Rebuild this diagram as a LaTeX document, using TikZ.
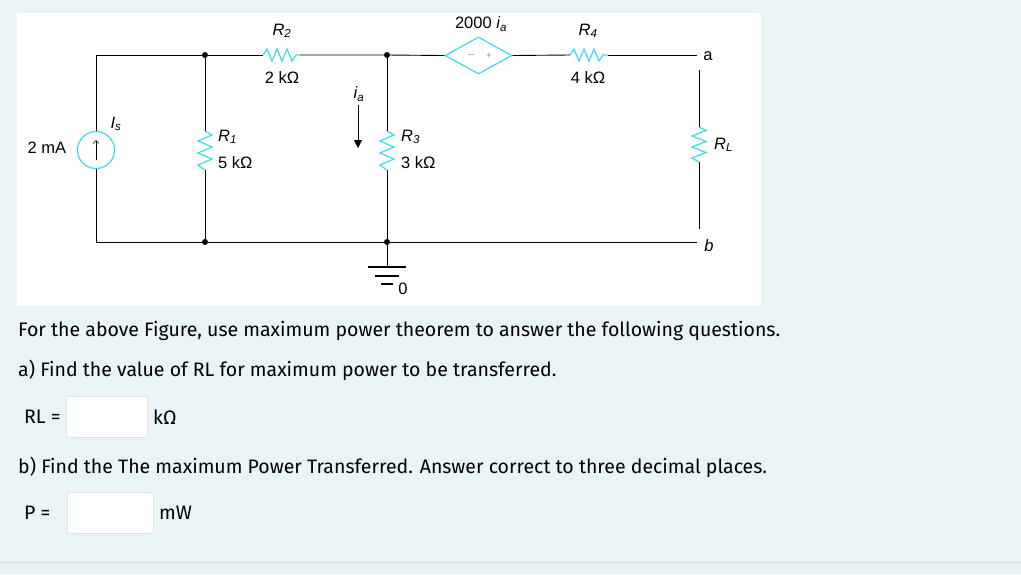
\documentclass[tikz,border=0pt]{standalone}
\usepackage{fontspec}
\setmainfont{Fira Sans}
\newfontfamily\cf{Liberation Sans}
\usetikzlibrary{shapes.geometric,arrows.meta}
\definecolor{bgc}{HTML}{E8F4F6}
\definecolor{cy}{HTML}{3CDCEC}
\tikzset{
 wire/.style={line width=0.9pt},
 comp/.style={cy,line width=1.2pt},
 dot/.style={circle,fill=black,inner sep=0pt,minimum size=6pt},
 lab/.style={font=\cf\fontsize{16.5}{18}\selectfont,inner sep=1pt},
 qtxt/.style={font=\fontsize{19.5}{22}\selectfont,anchor=west,inner sep=0pt},
 ansbox/.style={draw=black!15,fill=white,line width=0.6pt,rounded corners=2pt,anchor=north west}
}
\begin{document}
\begin{tikzpicture}[x=1pt,y=-1pt]
\fill[bgc] (0,0) rectangle (1021,574);
\useasboundingbox (0,0) rectangle (1021,574);
\fill[white] (17,13) rectangle (761,306);
% nodes
\coordinate (TL) at (96,55); \coordinate (BL) at (96,242);
\node[dot] (n1) at (205,55) {}; \node[dot] (n2) at (205,242) {};
\node[dot] (n3) at (387,55) {}; \node[dot] (n4) at (387,242) {};
\coordinate (TR) at (697,55); \coordinate (BR) at (697,242);
\coordinate (Ta) at (699,70); \coordinate (Tb) at (699,229);
\node[circle,draw=cy,line width=1.2pt,minimum size=37pt,inner sep=0pt] (IS) at (96,150) {};
\node[diamond,draw=cy,line width=1.2pt,minimum width=67pt,minimum height=37pt,inner sep=0pt,aspect=1.8] (D) at (478.5,55.5) {};
\node[font=\cf\fontsize{9}{10}\selectfont,text=gray] at (471,56) {--};
\node[font=\cf\fontsize{9}{10}\selectfont,text=gray] at (489,56) {+};
% resistors
\coordinate (r2a) at (263,55); \coordinate (r2b) at (300,55);
\coordinate (r4a) at (570,55); \coordinate (r4b) at (608,55);
\coordinate (r1a) at (205,131); \coordinate (r1b) at (205,170);
\coordinate (r3a) at (387,131); \coordinate (r3b) at (387,170);
\coordinate (rla) at (699,127); \coordinate (rlb) at (699,162);
\draw[comp] (r2a) -- ++(4,-6) -- ++(5,12) -- ++(5,-12) -- ++(5,12) -- ++(5,-12) -- ++(5,12) -- ++(4,-6) -- (r2b);
\draw[comp] (r4a) -- ++(4,-6) -- ++(5,12) -- ++(5,-12) -- ++(5,12) -- ++(5,-12) -- ++(5,12) -- ++(4,-6) -- (r4b);
\foreach \a/\b in {r1a/r1b,r3a/r3b}{
\draw[comp] (\a) -- ++(7,4) -- ++(-14,6) -- ++(14,6) -- ++(-14,6) -- ++(14,6) -- ++(-14,6) -- ++(7,5) -- (\b);}
\draw[comp] (rla) -- ++(7,3.5) -- ++(-14,5.5) -- ++(14,5.5) -- ++(-14,5.5) -- ++(14,5.5) -- ++(-14,5.5) -- ++(7,4) -- (rlb);
% wires
\draw[wire] (IS.north) -- (TL) -- (n1) -- (r2a);
\draw[wire] (r2b) -- (n3) -- (D.west);
\draw[wire] (D.east) -- (r4a); \draw[wire] (r4b) -- (TR);
\draw[wire] (IS.south) -- (BL) -- (n2) -- (n4) -- (BR);
\draw[wire] (n1) -- (r1a); \draw[wire] (r1b) -- (n2);
\draw[wire] (n3) -- (r3a); \draw[wire] (r3b) -- (n4);
\draw[wire] (Ta) -- (rla); \draw[wire] (rlb) -- (Tb);
\draw[-{Straight Barb[length=3pt]},line width=0.7pt] (96,160) -- (96,140);
% ia arrow
\coordinate (ia1) at (358,105); \coordinate (ia2) at (358,148);
\draw[wire,-{Triangle[length=8pt,width=8pt]}] (ia1) -- (ia2);
% ground
\coordinate (g0) at (387,267);
\draw[wire] (n4) -- (g0);
\draw[line width=1.2pt] (368,267) -- (406,267) (375,276) -- (399,276) (381,284) -- (393,284);
% labels
\node[lab] at (282,31) {\itshape R\textsubscript{2}};
\node[lab] at (282,78) {2 kΩ};
\node[lab] at (481,24) {2000 \itshape i\textsubscript{a}};
\node[lab] at (588,31) {\itshape R\textsubscript{4}};
\node[lab] at (588,78) {4 kΩ};
\node[lab] at (708,56) {a};
\node[lab] at (709,246) {\itshape b};
\node[lab] at (359,94) {\itshape i\textsubscript{a}};
\node[lab] at (116,124) {\itshape I\textsubscript{s}};
\node[lab] at (47,148) {2 mA};
\node[lab,anchor=west] at (217,137) {\itshape R\textsubscript{1}};
\node[lab,anchor=west] at (217,163) {5 kΩ};
\node[lab,anchor=west] at (400,137) {\itshape R\textsubscript{3}};
\node[lab,anchor=west] at (400,163) {3 kΩ};
\node[lab,anchor=west] at (713,145) {\itshape R\textsubscript{L}};
\node[lab] at (403,289) {0};
% question text
\node[qtxt] (q1) at (18,331) {For the above Figure, use maximum power theorem to answer the following questions.};
\node[qtxt] (q2) at (18,370) {a) Find the value of RL for maximum power to be transferred.};
\node[qtxt] (l1) at (24,417) {RL =};
\node[ansbox,minimum width=81pt,minimum height=41pt] (b1) at (66,396) {};
\node[qtxt] (u1) at (153,417) {kΩ};
\node[qtxt] (q3) at (18,467) {b) Find the The maximum Power Transferred. Answer correct to three decimal places.};
\node[qtxt] (l2) at (24,513) {P =};
\node[ansbox,minimum width=86pt,minimum height=41pt] (b2) at (67,492) {};
\node[qtxt] (u2) at (159,513) {mW};
\draw[black!15,line width=0.8pt] (0,562) -- (1021,562);
\end{tikzpicture}
\end{document}
